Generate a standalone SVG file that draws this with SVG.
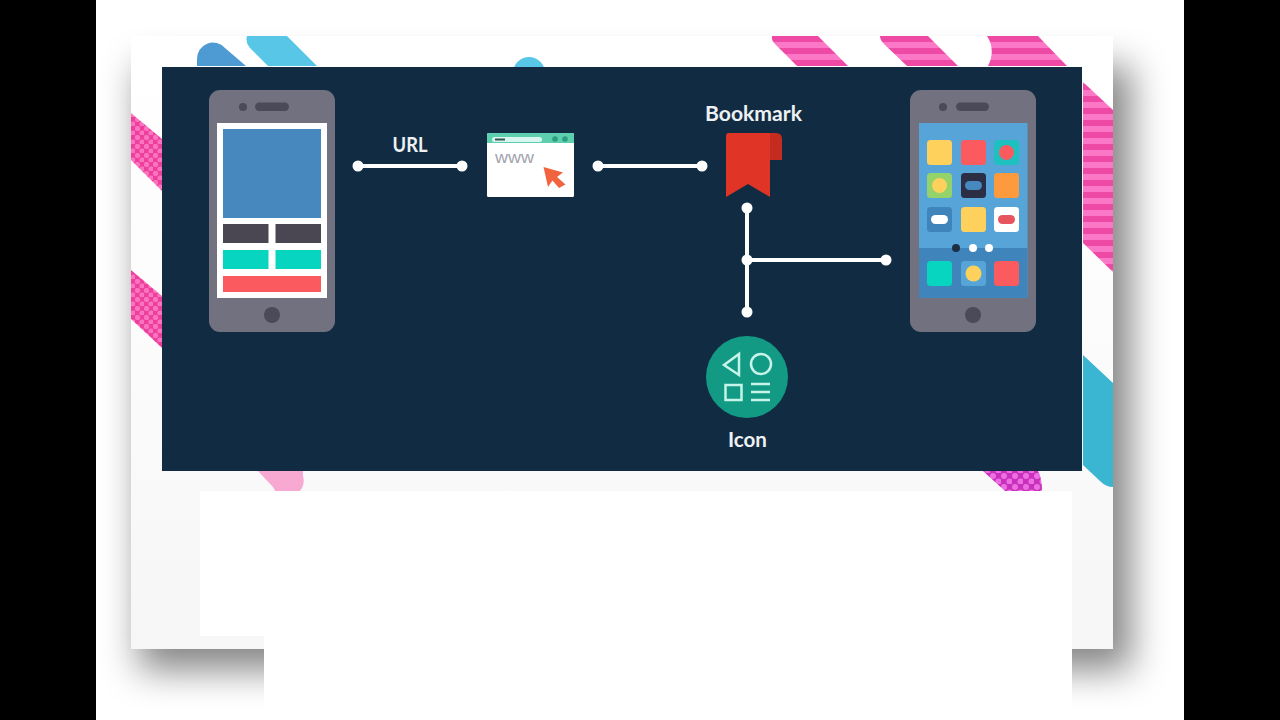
<svg xmlns="http://www.w3.org/2000/svg" width="1280" height="720" viewBox="0 0 1280 720">
<style>
.lbl{font-family:"Lato","Liberation Sans",sans-serif;font-weight:700;fill:#eef1f3;text-anchor:middle}
.body{fill:#71717f}
.cam{fill:#4a4a58}
.wire{stroke:#fff;stroke-width:4;fill:none;stroke-linecap:round}
.dot{fill:#fff}
.ico{fill:none;stroke:#c6f4e8;stroke-width:2.5}
</style>
<defs>
<filter id="blur" x="-10%" y="-15%" width="120%" height="130%"><feGaussianBlur stdDeviation="18"/></filter>
<linearGradient id="card" x1="0" y1="0" x2="0" y2="1"><stop offset="0" stop-color="#fff"/><stop offset=".55" stop-color="#fbfbfb"/><stop offset="1" stop-color="#f6f6f6"/></linearGradient>
<pattern id="dotsPink" width="9" height="9" patternUnits="userSpaceOnUse">
<rect width="9" height="9" fill="#ef3f9d"/><circle cx="2.5" cy="2.5" r="2.6" fill="#fb74bf"/><circle cx="7" cy="7" r="2.6" fill="#fb74bf"/>
</pattern>
<pattern id="dotsPurple" width="11" height="11" patternUnits="userSpaceOnUse">
<rect width="11" height="11" fill="#c930bb"/><circle cx="3" cy="3" r="3" fill="#ee6fe2"/><circle cx="8.5" cy="8.5" r="3" fill="#ee6fe2"/>
</pattern>
<pattern id="stripes" width="12" height="12" patternUnits="userSpaceOnUse" y="36">
<rect width="12" height="12" fill="#ee4aa5"/><rect y="6" width="12" height="6" fill="#fb78c6"/>
</pattern>
</defs>

<g id="background">
<rect width="1280" height="720" fill="#fff"/>
<rect x="139" y="66" width="992" height="604" fill="#000" fill-opacity=".48" filter="url(#blur)"/>
<rect x="0" y="0" width="96" height="720" fill="#000"/>
<rect x="1184" y="0" width="96" height="720" fill="#000"/>
<rect x="131" y="36" width="982" height="613" fill="url(#card)"/>
<path d="M197 66V59A16 16 0 0 1 225 48L246 66Z" fill="#4e9bd3"/>
<path d="M247 36H287L317 66H268L250 48Q245 42 247 36Z" fill="#58c6e6"/>
<circle cx="529" cy="73" r="16" fill="#58c6e6"/>
<path d="M772 36H818L848 66H797L775 44Q771 40 772 36Z" fill="url(#stripes)"/>
<path d="M880 36H928L958 66H907L884 44Q880 40 880 36Z" fill="url(#stripes)"/>
<path d="M987 36H1038L1067 66H988Q996 50 987 36Z" fill="url(#stripes)"/>
<path d="M1083 82L1113 110V272L1083 243Z" fill="url(#stripes)"/>
<path d="M131 113L162 139V191L131 160Z" fill="url(#dotsPink)"/>
<path d="M131 270L162 296V348L131 319Z" fill="url(#dotsPink)"/>
<path d="M1083 355L1113 383V487Q1106 487 1100 481L1083 465Z" fill="#3ab5d2"/>
<path d="M258 471H303V476A16 16 0 0 1 273 487Z" fill="#f8a9d2"/>
<path d="M983 471H1038Q1042 478 1042 491H1005Z" fill="url(#dotsPurple)"/>
<rect x="162" y="67" width="920" height="404" fill="#112c42"/>
<rect x="200" y="491" width="872" height="145" fill="#fff"/>
<rect x="264" y="636" width="808" height="84" fill="#fff"/>
</g>

<g id="connectors">
<path class="wire" d="M358 166H462"/>
<circle class="dot" cx="358" cy="166" r="5.500"/><circle class="dot" cx="462" cy="166" r="5.500"/>
<path class="wire" d="M598 166H702"/>
<circle class="dot" cx="598" cy="166" r="5.500"/><circle class="dot" cx="702" cy="166" r="5.500"/>
<path class="wire" d="M747 208V312M747 260H886"/>
<circle class="dot" cx="747" cy="208" r="5.500"/><circle class="dot" cx="747" cy="260" r="5.500"/><circle class="dot" cx="747" cy="312" r="5.500"/><circle class="dot" cx="886" cy="260" r="5.500"/>
</g>

<g id="phone-left">
<rect class="body" x="209" y="90" width="126" height="242" rx="11"/>
<circle class="cam" cx="243" cy="107" r="4"/>
<rect class="cam" x="255" y="102.500" width="34" height="8.500" rx="4.200"/>
<circle class="cam" cx="272" cy="315" r="8"/>
<rect x="217" y="123" width="110" height="175" fill="#fff"/>
<rect x="223" y="129" width="98" height="89" fill="#4788bf"/>
<rect x="223" y="224" width="45.500" height="19" fill="#4a4652"/>
<rect x="275.500" y="224" width="45.500" height="19" fill="#4a4652"/>
<rect x="223" y="250" width="45.500" height="19" fill="#08d5bf"/>
<rect x="275.500" y="250" width="45.500" height="19" fill="#08d5bf"/>
<rect x="223" y="276" width="98" height="16" fill="#fb5b5e"/>
</g>

<g id="url-label"><text class="lbl" x="410" y="152" font-size="20" textLength="35" lengthAdjust="spacingAndGlyphs">URL</text></g>

<g id="browser">
<rect x="487" y="133" width="87" height="64" rx="1.500" fill="#fff"/>
<path d="M487 143V135Q487 133 489 133H572Q574 133 574 135V143Z" fill="#5ccfae"/>
<rect x="492" y="137" width="50" height="5" rx="2.500" fill="#d9f6ee"/>
<rect x="495" y="138.500" width="10" height="2" fill="#33574f"/>
<circle cx="555" cy="139" r="2.800" fill="#2f9c80"/><circle cx="565" cy="139" r="2.800" fill="#2f9c80"/>
<text x="495" y="163" font-family="'Liberation Sans',sans-serif" font-size="17" fill="#a3a3ad" textLength="39" lengthAdjust="spacingAndGlyphs">www</text>
<path d="M543.500 167L563 172.500L557 177L565.500 184.500L559 188L552.500 180.500L548 187Z" fill="#f2633f"/>
</g>

<g id="bookmark">
<text class="lbl" x="753.500" y="121" font-size="20" textLength="97" lengthAdjust="spacingAndGlyphs">Bookmark</text>
<path d="M762 133H776Q782 133 782 139V160H768Z" fill="#c42c20"/>
<path d="M729 133H770V197L748 184L726 197V136Q726 133 729 133Z" fill="#e03426"/>
</g>

<g id="icon">
<circle cx="747" cy="377" r="41" fill="#129a85"/>
<path class="ico" d="M724 365L739 354V375Z"/>
<circle class="ico" cx="761" cy="364" r="10"/>
<rect class="ico" x="725.500" y="385" width="16" height="15"/>
<path class="ico" d="M751 384H770M751 392H770M751 400H770"/>
<text class="lbl" x="747.500" y="447" font-size="20" textLength="39" lengthAdjust="spacingAndGlyphs">Icon</text>
</g>

<g id="phone-right">
<rect class="body" x="910" y="90" width="126" height="242" rx="11"/>
<circle class="cam" cx="943" cy="107" r="4"/>
<rect class="cam" x="956" y="102.500" width="33" height="8.500" rx="4.200"/>
<circle class="cam" cx="973" cy="315" r="8"/>
<rect x="919" y="123" width="108.500" height="175" fill="#57a5d8"/>
<rect x="919" y="248" width="108.500" height="50" fill="#3f84bb"/>
<rect x="927" y="140" width="25" height="25" rx="3.500" fill="#fdd15c"/>
<rect x="961" y="140" width="25" height="25" rx="3.500" fill="#fb5b5e"/>
<rect x="994" y="140" width="25" height="25" rx="3.500" fill="#1ec0c0"/><circle cx="1006.500" cy="152.500" r="7.500" fill="#fb5b5e"/>
<rect x="927" y="173" width="25" height="25" rx="3.500" fill="#94d36a"/><circle cx="939.500" cy="185.500" r="7.500" fill="#fdd15c"/>
<rect x="961" y="173" width="25" height="25" rx="3.500" fill="#2b2e45"/><rect x="965" y="181" width="17" height="9" rx="4.500" fill="#4788bf"/>
<rect x="994" y="173" width="25" height="25" rx="3.500" fill="#fd9a3e"/>
<rect x="927" y="207" width="25" height="25" rx="3.500" fill="#3f84bb"/><rect x="931" y="215" width="17" height="9" rx="4.500" fill="#fff"/>
<rect x="961" y="207" width="25" height="25" rx="3.500" fill="#fdd15c"/>
<rect x="994" y="207" width="25" height="25" rx="3.500" fill="#fff"/><rect x="998" y="215" width="17" height="9" rx="4.500" fill="#e8545c"/>
<circle cx="956" cy="248" r="4" fill="#1c2f45"/><circle class="dot" cx="973" cy="248" r="4"/><circle class="dot" cx="989" cy="248" r="4"/>
<rect x="927" y="261" width="25" height="25" rx="3.500" fill="#08d5bf"/>
<rect x="961" y="261" width="25" height="25" rx="3.500" fill="#57a5d8"/><circle cx="973.500" cy="273.500" r="8" fill="#fdd15c"/>
<rect x="994" y="261" width="25" height="25" rx="3.500" fill="#fb5b5e"/>
</g>
</svg>
